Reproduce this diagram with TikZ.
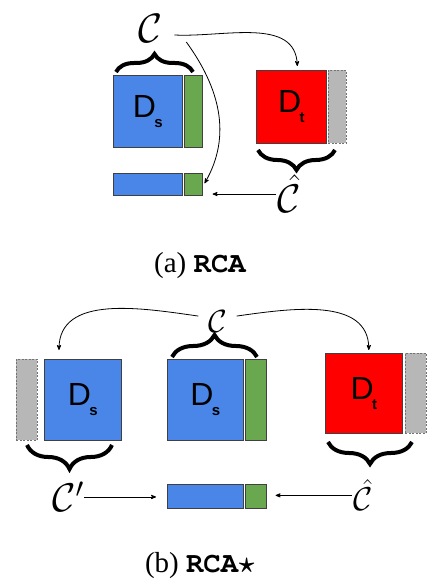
\documentclass[tikz,border=0pt]{standalone}
\usepackage{fix-cm}
\usepackage{fontspec}
\setmainfont{Liberation Serif}
\newfontfamily\dfont{Liberation Sans}
\newfontfamily\capfont{TeX Gyre Cursor}
\usetikzlibrary{decorations.pathreplacing}
\usetikzlibrary{arrows}
\usetikzlibrary{calc}
\definecolor{blue1}{RGB}{74,134,232}
\definecolor{green1}{RGB}{106,168,79}
\definecolor{red1}{RGB}{255,0,0}
\definecolor{gray1}{RGB}{183,183,183}
\newcommand{\dlab}[1]{{\dfont\fontsize{32}{32}\selectfont D\kern-1.5pt\raisebox{-10pt}{\fontsize{15}{15}\selectfont\bfseries #1}}}
\newcommand{\calsize}[2]{{\fontsize{#1}{#1}\selectfont$#2$}}

\begin{document}
\begin{tikzpicture}[x=1pt, y=1pt, line width=0.6pt, >=stealth',
  box/.style={draw=black!75, anchor=north west, inner sep=0pt},
  padbox/.style={box, fill=gray1, draw=black!55, dashed, dash pattern=on 2pt off 1.5pt},
  bigbrace/.style={decorate, line width=4pt, decoration={brace, amplitude=#1}},
  conn/.style={->, line width=0.8pt}]
  \useasboundingbox (0,0) rectangle (443,581);
  % (a) RCA
  \node[box, fill=blue1, minimum width=69pt, minimum height=72pt] (dsA) at (113,506) {\dlab{s}};
  \node[box, fill=green1, minimum width=18pt, minimum height=72pt] (lbA) at (184,506) {};
  \node[box, fill=red1, minimum width=70pt, minimum height=73pt] (dtA) at (256,511) {\dlab{t}};
  \node[padbox, minimum width=18pt, minimum height=73pt] (gpA) at (328,511) {};
  \node[box, fill=blue1, minimum width=69pt, minimum height=22pt] (barA) at (113,408) {};
  \node[box, fill=green1, minimum width=18pt, minimum height=22pt] (gbarA) at (184,408) {};
  \node[anchor=base, inner sep=2pt] (cA) at (150,538) {\calsize{41}{\mathcal{C}}};
  \node[anchor=base, inner sep=1pt] (chatA) at (289,368) {\calsize{40}{\hat{\mathcal{C}}}};
  \draw [bigbrace=18pt] (116,509) -- (193,509);
  \draw [bigbrace=20pt] (335,431) -- (258,431);
  \draw[conn] ($(cA.east)+(10,-6)$) to[out=-3,in=92] ($(dtA.north)+(6,4)$);
  \draw[conn] ($(cA.east)+(22,-13)$) to[out=-54,in=60] ($(gbarA.east)+(2,1)$);
  \draw[conn, shorten >=10pt] (chatA.west) -- (chatA.west -| gbarA.east);
  \node (capA) at (200,315) {\fontsize{29}{29}\selectfont (a) {\capfont\bfseries RCA}};
  % (b) RCA*
  \node[padbox, minimum width=21pt, minimum height=81pt] (padL) at (16,222) {};
  \node[box, fill=blue1, minimum width=77pt, minimum height=81pt] (dsL) at (44,222) {\dlab{s}};
  \node[box, fill=blue1, minimum width=76pt, minimum height=81pt] (dsM) at (167,222) {\dlab{s}};
  \node[box, fill=green1, minimum width=21pt, minimum height=81pt] (lbM) at (245,222) {};
  \node[box, fill=red1, minimum width=77pt, minimum height=80pt] (dtB) at (325,228) {\dlab{t}};
  \node[padbox, minimum width=21pt, minimum height=80pt] (gpB) at (405,228) {};
  \node[box, fill=blue1, minimum width=76pt, minimum height=24pt] (barM) at (167,97) {};
  \node[box, fill=green1, minimum width=21pt, minimum height=24pt] (gbarM) at (245,97) {};
  \node[anchor=base, inner sep=2pt] (cB) at (218,248) {\calsize{32}{\mathcal{C}}};
  \node[anchor=base west, inner sep=0pt] (cP) at (52,69) {\calsize{40}{\mathcal{C}'}};
  \node[anchor=base, inner sep=1pt] (chatB) at (363,70) {\calsize{33}{\hat{\mathcal{C}}}};
  \draw [bigbrace=22pt] (172,224) -- (257,224);
  \draw [bigbrace=24pt] (112,136) -- (27,136);
  \draw [bigbrace=22pt] (412,139) -- (328,139);
  \draw[conn] ($(cB.west)+(-8,6)$) to[out=172,in=90] ($(dsL.north west)+(15,9)$);
  \draw[conn] ($(cB.east)+(7,6)$) to[out=8,in=90] ($(dtB.north)+(5,3)$);
  \draw[conn, shorten >=11pt] (cP.east) -- (cP.east -| barM.west);
  \draw[conn, shorten >=9pt] (chatB.west) -- (chatB.west -| gbarM.east);
  \node (capB) at (200,15) {\fontsize{29}{29}\selectfont (b) {\capfont\bfseries RCA{\boldmath$\star$}}};
\end{tikzpicture}
\end{document}
